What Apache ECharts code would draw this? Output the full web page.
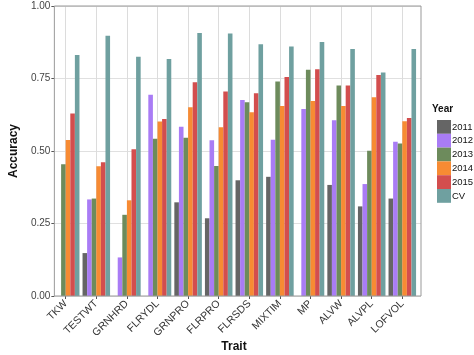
<!DOCTYPE html>
<html><head><meta charset="utf-8">
<script src="https://cdn.jsdelivr.net/npm/echarts@6/dist/echarts.min.js"></script>
<style>html,body{margin:0;padding:0;background:#fff}#c{width:474px;height:355px}</style>
</head><body><div id="c"></div>
<script>
const categories = ['TKW','TESTWT','GRNHRD','FLRYDL','GRNPRO','FLRPRO','FLRSDS','MIXTIM','MP','ALVW','ALVPL','LOFVOL'];
const years = ['2011','2012','2013','2014','2015','CV'];
const y2011 = [null, 0.148, null, null, 0.323, 0.268, 0.399, 0.411, null, 0.383, 0.309, 0.336];
const y2012 = [null, 0.333, 0.133, 0.694, 0.584, 0.537, 0.676, 0.539, 0.645, 0.606, 0.386, 0.532];
const y2013 = [0.454, 0.336, 0.280, 0.542, 0.546, 0.448, 0.668, 0.740, 0.780, 0.726, 0.501, 0.526];
const y2014 = [0.538, 0.447, 0.330, 0.602, 0.651, 0.582, 0.634, 0.655, 0.672, 0.655, 0.685, 0.603];
const y2015 = [0.629, 0.461, 0.506, 0.610, 0.737, 0.705, 0.699, 0.755, 0.782, 0.726, 0.762, 0.614];
const yCV   = [0.831, 0.897, 0.825, 0.817, 0.907, 0.905, 0.868, 0.860, 0.876, 0.852, 0.771, 0.852];
const yTicks = [0, 0.25, 0.5, 0.75, 1];
const colors = ['#656565', '#a97cf5', '#6d8b5c', '#f78b33', '#d34e4e', '#6fa0a0'];

const seriesValues = [y2011, y2012, y2013, y2014, y2015, yCV];
const FONT = 'Liberation Sans, Arial, sans-serif';
const chart = echarts.init(document.getElementById('c'), null, {renderer: 'canvas'});

const barSeries = years.map((y, i) => ({
  name: y, type: 'bar', xAxisIndex: 1, yAxisIndex: 1,
  data: seriesValues[i].map(v => v == null ? '-' : v),
  barGap: '0%', barCategoryGap: '10%',
  itemStyle: {color: colors[i]}, z: 3, silent: true
}));

const BAND = 367.2 / categories.length;
const firstCenter = 50.4 + BAND / 2;

chart.setOption({
  animation: false,
  textStyle: {fontFamily: FONT},
  grid: [
    {left: 47, top: 6, width: 374, height: 290, show: true, borderColor: '#999999', borderWidth: 1, backgroundColor: 'transparent', z: 5},
    {left: 50.4, top: 6, width: 367.2, height: 290},
    {left: firstCenter, top: 6, width: BAND * (categories.length - 1), height: 290}
  ],
  xAxis: [
    {type: 'value', gridIndex: 0, min: 0, max: 1, show: false},
    {type: 'category', gridIndex: 1, data: categories,
     axisLine: {show: false},
     axisTick: {show: true, alignWithLabel: true, length: 3, lineStyle: {color: '#555'}},
     axisLabel: {rotate: 45, fontSize: 10.5, color: '#333', margin: 6, fontFamily: FONT},
     splitLine: {show: false}},
    {type: 'category', gridIndex: 2, data: categories, boundaryGap: false, show: true,
     axisLine: {show: false}, axisTick: {show: false}, axisLabel: {show: false},
     splitLine: {show: true, interval: 0, lineStyle: {color: '#dcdcdc', width: 1}}}
  ],
  yAxis: [
    {type: 'value', gridIndex: 0, min: 0, max: 1, interval: 0.25,
     axisLine: {show: false},
     axisTick: {show: true, length: 3, lineStyle: {color: '#555'}},
     axisLabel: {fontSize: 10, color: '#444', margin: 4, formatter: v => v.toFixed(2), fontFamily: FONT},
     splitLine: {show: true, lineStyle: {color: '#e0e0e0', width: 1}},
     name: 'Accuracy', nameLocation: 'middle', nameRotate: 90, nameGap: 30,
     nameTextStyle: {fontSize: 12, fontWeight: 'bold', color: '#111', fontFamily: FONT}},
    {type: 'value', gridIndex: 1, min: 0, max: 1, show: false},
    {type: 'value', gridIndex: 2, min: 0, max: 1, show: true,
     axisLine: {show: false}, axisTick: {show: false}, axisLabel: {show: false}, splitLine: {show: false}}
  ],
  legend: {
    data: years, orient: 'vertical', left: 432, top: 115,
    icon: 'rect', itemWidth: 14, itemHeight: 13.8, itemGap: 0,
    textStyle: {fontSize: 9.5, color: '#111', fontFamily: FONT, padding: [0, 0, 0, -4]},
    selectedMode: false
  },
  graphic: [
    {type: 'text', left: 432, top: 104, style: {text: 'Year', font: 'bold 10px ' + FONT, fill: '#111'}},
    {type: 'text', x: 234, y: 347, style: {text: 'Trait', font: 'bold 12px ' + FONT, fill: '#111', textAlign: 'center', textVerticalAlign: 'middle'}}
  ],
  series: [
    {type: 'line', xAxisIndex: 2, yAxisIndex: 2, data: categories.map(() => '-'), silent: true, z: 0, showSymbol: false}
  ].concat(barSeries)
});
</script>
</body></html>
